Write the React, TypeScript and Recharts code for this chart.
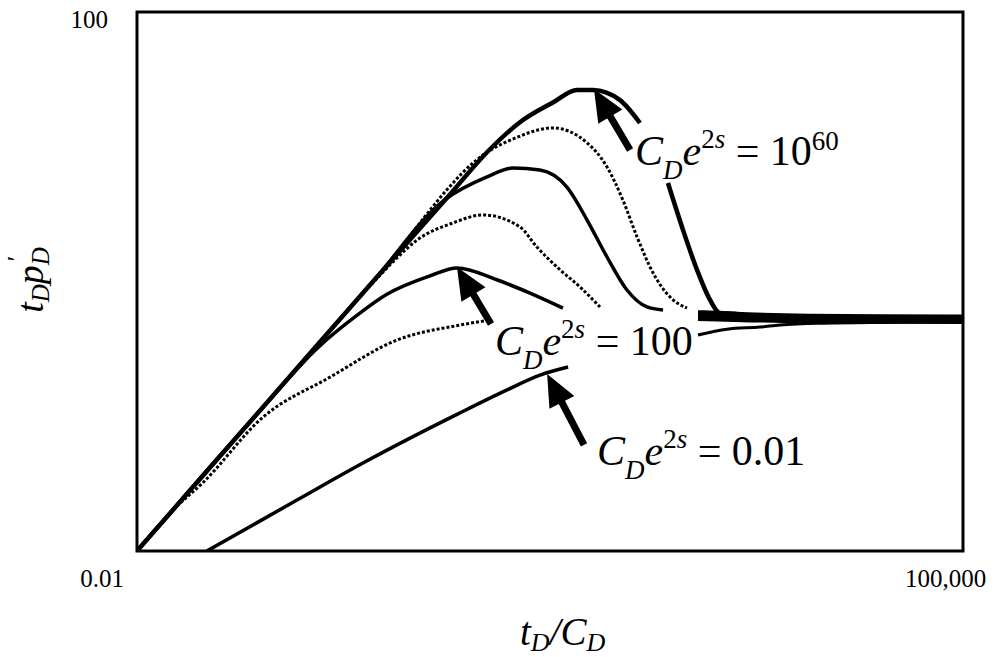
import React from 'react';
import { LineChart, Line, XAxis, YAxis, ReferenceArea, ReferenceLine, ReferenceDot } from 'recharts';

const FONT = '"Liberation Serif", "Times New Roman", serif';

type Pt = { x: number; y: number | null };

// C_D e^{2s} = 0.01
const curveA: Pt[] = [
  { x: 0.0392, y: 0.01 }, { x: 0.227, y: 0.0239 }, { x: 0.822, y: 0.045 },
  { x: 5.46, y: 0.106 }, { x: 13.7, y: 0.157 }, { x: 26, y: 0.202 }, { x: 45, y: 0.232 },
];
const curveB: Pt[] = [
  { x: 0.01, y: 0.01 }, { x: 0.02, y: 0.02 }, { x: 0.036, y: 0.032 }, { x: 0.117, y: 0.0986 },
  { x: 0.432, y: 0.195 }, { x: 1.6, y: 0.368 }, { x: 5.46, y: 0.475 }, { x: 9.82, y: 0.518 },
];
// C_D e^{2s} = 100
const curveC: Pt[] = [
  { x: 0.01, y: 0.01 }, { x: 0.1, y: 0.1 }, { x: 0.35, y: 0.33 }, { x: 0.73, y: 0.56 },
  { x: 1.3, y: 0.8 }, { x: 3.04, y: 1.1 }, { x: 5.15, y: 1.26 }, { x: 11.2, y: 1.03 },
  { x: 21.4, y: 0.82 }, { x: 40.7, y: 0.635 },
];
const curveD: Pt[] = [
  { x: 0.01, y: 0.01 }, { x: 0.1, y: 0.1 }, { x: 1, y: 0.98 }, { x: 1.6, y: 1.5 },
  { x: 2.36, y: 2.03 }, { x: 4.76, y: 2.72 }, { x: 8.55, y: 3.12 }, { x: 17.6, y: 2.54 },
  { x: 24.5, y: 1.8 }, { x: 38.5, y: 1.22 }, { x: 56.8, y: 0.91 }, { x: 83.9, y: 0.647 },
];
const curveE: Pt[] = [
  { x: 0.01, y: 0.01 }, { x: 0.1, y: 0.1 }, { x: 1, y: 1 }, { x: 4, y: 4 },
  { x: 9.25, y: 5.97 }, { x: 15.3, y: 6.95 }, { x: 26, y: 6.71 }, { x: 44, y: 5.02 },
  { x: 65.2, y: 2.86 }, { x: 96.2, y: 1.52 }, { x: 142, y: 0.865 }, { x: 210, y: 0.647 },
  { x: 287, y: 0.614 },
];
const curveF: Pt[] = [
  { x: 0.01, y: 0.01 }, { x: 0.1, y: 0.1 }, { x: 1, y: 1 }, { x: 10, y: 9.5 },
  { x: 15.3, y: 11.4 }, { x: 33.5, y: 13.8 }, { x: 65.2, y: 10.7 }, { x: 96.2, y: 7.08 },
  { x: 131, y: 4.03 }, { x: 173, y: 2.14 }, { x: 236, y: 1.16 }, { x: 329, y: 0.767 },
  { x: 458, y: 0.635 },
];
// C_D e^{2s} = 10^60
const curveG: Pt[] = [
  { x: 0.01, y: 0.01 }, { x: 0.1, y: 0.1 }, { x: 1, y: 1 }, { x: 4.76, y: 4.7 },
  { x: 9.25, y: 9.1 }, { x: 17.6, y: 15.2 }, { x: 33.5, y: 21.3 }, { x: 53.6, y: 26.4 },
  { x: 73.1, y: 26.4 }, { x: 124, y: 22.2 }, { x: 183, y: 15.0 }, { x: 250, y: null },
  { x: 316, y: 5.38 }, { x: 424, y: 2.41 }, { x: 557, y: 1.22 }, { x: 718, y: 0.73 },
  { x: 873, y: 0.583 }, { x: 1200, y: 0.575 },
];
// late-time radial flow
const lateTop: Pt[] = [
  { x: 568, y: 0.59 }, { x: 800, y: 0.585 }, { x: 1500, y: 0.57 }, { x: 5000, y: 0.555 },
  { x: 20000, y: 0.55 }, { x: 100000, y: 0.548 },
];
const lateMid: Pt[] = [
  { x: 568, y: 0.555 }, { x: 2000, y: 0.54 }, { x: 100000, y: 0.527 },
];
const lateBase: Pt[] = [
  { x: 568, y: 0.53 }, { x: 3000, y: 0.512 }, { x: 100000, y: 0.503 },
];
const lateLow: Pt[] = [
  { x: 568, y: 0.401 }, { x: 1000, y: 0.443 }, { x: 1905, y: 0.459 }, { x: 2810, y: 0.475 },
  { x: 6000, y: 0.49 }, { x: 20000, y: 0.497 }, { x: 100000, y: 0.5 },
];

const xTicks = [0.01, 100000];
const xTickLabels = ['0.01', '100,000'];
const yTicks = [100];
const yTickLabels = ['100'];

const arrows = [
  { tail: { x: 151, y: 9.46 }, tip: { x: 74.6, y: 26.8 } },
  { tail: { x: 10.0, y: 0.484 }, tip: { x: 5.15, y: 1.28 } },
  { tail: { x: 61.4, y: 0.0612 }, tip: { x: 29.9, y: 0.206 } },
];

const labels = [
  { x: 166, y: 7.33, value: '10', sup: '60' },
  { x: 10.8, y: 0.285, value: '100', sup: '' },
  { x: 79.1, y: 0.0435, value: '0.01', sup: '' },
];

const XTick = (props: any) => {
  const { x, y, payload } = props;
  const i = xTicks.indexOf(payload.value);
  const shift = i === 0 ? -35 : -17.5;
  return (
    <text x={x + shift} y={y + 36} textAnchor="middle" fontFamily={FONT} fontSize={25} fill="#000">
      {xTickLabels[i]}
    </text>
  );
};

const YTick = (props: any) => {
  const { x, y, payload } = props;
  const i = yTicks.indexOf(payload.value);
  return (
    <text x={x - 29} y={y + 16} textAnchor="end" fontFamily={FONT} fontSize={25} fill="#000">
      {yTickLabels[i]}
    </text>
  );
};

const Arrow = (props: any) => {
  const { x1, y1, x2, y2 } = props;
  const dx = x2 - x1;
  const dy = y2 - y1;
  const len = Math.hypot(dx, dy) || 1;
  const ux = dx / len;
  const uy = dy / len;
  const head = 32;
  const hw = 14;
  const bx = x2 - ux * head;
  const by = y2 - uy * head;
  const nx = -uy;
  const ny = ux;
  return (
    <g>
      <line x1={x1} y1={y1} x2={bx + ux * 2} y2={by + uy * 2} stroke="#000" strokeWidth={7} />
      <polygon
        points={`${x2},${y2} ${bx + nx * hw},${by + ny * hw} ${bx - nx * hw},${by - ny * hw}`}
        fill="#000"
      />
    </g>
  );
};

const CdLabel = ({ x, y, value, sup }: any) => (
  <text x={x} y={y} fontFamily={FONT} fontSize={42} fill="#000">
    <tspan fontStyle="italic">C</tspan>
    <tspan fontStyle="italic" fontSize={27} dy={14}>D</tspan>
    <tspan fontStyle="italic" dy={-14}>e</tspan>
    <tspan fontSize={27} dy={-17}>2</tspan>
    <tspan fontStyle="italic" fontSize={27}>s</tspan>
    <tspan dy={17}>{' = ' + value}</tspan>
    {sup ? <tspan fontSize={27} dy={-15}>{sup}</tspan> : null}
  </text>
);

const XTitle = (props: any) => {
  const vb = props.viewBox || { x: 137, y: 551 };
  const x = vb.x + 383;
  const y = vb.y + 94;
  return (
    <text x={x} y={y} fontFamily={FONT} fontSize={39} fill="#000">
      <tspan fontStyle="italic">t</tspan>
      <tspan fontStyle="italic" fontSize={26} dy={6}>D</tspan>
      <tspan fontStyle="italic" dy={-6}>/C</tspan>
      <tspan fontStyle="italic" fontSize={26} dy={6}>D</tspan>
    </text>
  );
};

const YTitle = (props: any) => {
  const vb = props.viewBox || { x: 0, y: 12 };
  const cx = vb.x + 43;
  const cy = vb.y + 268;
  return (
    <text x={cx} y={cy} transform={`rotate(-90, ${cx}, ${cy})`} textAnchor="middle" fontFamily={FONT} fontSize={38} fill="#000">
      <tspan fontStyle="italic">t</tspan>
      <tspan fontStyle="italic" fontSize={25} dy={6}>D</tspan>
      <tspan fontStyle="italic" dy={-6}>p</tspan>
      <tspan fontStyle="italic" fontSize={25} dy={6}>D</tspan>
      <tspan fontSize={25} dx={-14} dy={-24}>′</tspan>
    </text>
  );
};

const solid = { stroke: '#000', strokeWidth: 3.5, dot: false, isAnimationActive: false, type: 'monotone' as const };
const dotted = { ...solid, strokeWidth: 3, strokeDasharray: '3 2' };

export default function App() {
  return (
    <div style={{ position: 'absolute', left: 0, top: 0, width: 997, height: 657, background: '#fff' }}>
      <LineChart width={997} height={657} margin={{ top: 12, right: 34, left: 0, bottom: 46 }}>
        <XAxis
          type="number"
          dataKey="x"
          scale="log"
          domain={[0.01, 100000]}
          allowDataOverflow
          ticks={xTicks}
          interval={0}
          tick={<XTick />}
          tickSize={0}
          tickMargin={0}
          tickLine={false}
          axisLine={false}
          height={60}
          label={{ content: (p: any) => <XTitle {...p} /> }}
        />
        <YAxis
          type="number"
          dataKey="y"
          scale="log"
          domain={[0.01, 100]}
          allowDataOverflow
          ticks={yTicks}
          interval={0}
          tick={<YTick />}
          tickSize={0}
          tickMargin={0}
          tickLine={false}
          axisLine={false}
          width={137}
          label={{ content: (p: any) => <YTitle {...p} /> }}
        />
        <ReferenceArea x1={0.01} x2={100000} y1={0.01} y2={100} fill="none" stroke="#000" strokeWidth={3} />
        <Line data={curveA} dataKey="y" {...solid} />
        <Line data={curveB} dataKey="y" {...dotted} />
        <Line data={curveC} dataKey="y" {...solid} />
        <Line data={curveD} dataKey="y" {...dotted} />
        <Line data={curveE} dataKey="y" {...solid} />
        <Line data={curveF} dataKey="y" {...dotted} />
        <Line data={curveG} dataKey="y" {...solid} strokeWidth={4.5} />
        <Line data={lateTop} dataKey="y" {...solid} strokeWidth={4.5} />
        <Line data={lateMid} dataKey="y" {...solid} strokeWidth={4.5} />
        <Line data={lateBase} dataKey="y" {...solid} strokeWidth={4.5} />
        <Line data={lateLow} dataKey="y" {...solid} strokeWidth={3} />
        {arrows.map((a, i) => (
          <ReferenceLine key={`ar${i}`} segment={[a.tail, a.tip]} shape={(p: any) => <Arrow {...p} />} />
        ))}
        {labels.map((l, i) => (
          <ReferenceDot
            key={`lb${i}`}
            x={l.x}
            y={l.y}
            r={0}
            shape={(p: any) => <CdLabel x={p.cx} y={p.cy} value={l.value} sup={l.sup} />}
          />
        ))}
      </LineChart>
    </div>
  );
}
